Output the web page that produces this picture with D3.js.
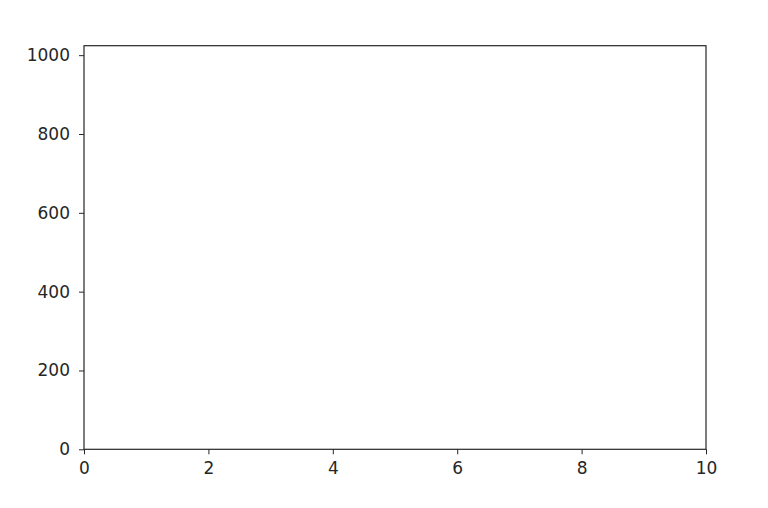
<!DOCTYPE html>
<html><head><meta charset="utf-8">
<script src="https://cdn.jsdelivr.net/npm/d3@7"></script>
<style>body{margin:0;background:#fff}svg{display:block}text{font-family:"DejaVu Sans",sans-serif}</style>
</head><body><svg id="c" width="768" height="508"></svg>
<script>
const xDomain = [0, 10];
const yDomain = [0, 1024];
const xTicks = [0, 2, 4, 6, 8, 10];
const yTicks = [0, 200, 400, 600, 800, 1000];

const svg = d3.select("#c");
const L = 84, R = 706, T = 45.7, B = 449.3;
const x = d3.scaleLinear().domain(xDomain).range([L, R]);
const y = d3.scaleLinear().domain(yDomain).range([B, T]);

const fs = 17;
svg.append("g").attr("transform", `translate(0,${B})`)
  .call(d3.axisBottom(x).tickValues(xTicks).tickSize(5).tickPadding(8).tickFormat(d3.format("d")))
  .call(g => g.select(".domain").remove())
  .call(g => g.selectAll("text").attr("font-size", fs).attr("fill", "#262626").attr("font-family", "DejaVu Sans"))
  .call(g => g.selectAll("line").attr("stroke", "#262626"));
svg.append("g").attr("transform", `translate(${L},0)`)
  .call(d3.axisLeft(y).tickValues(yTicks).tickSize(5).tickPadding(9).tickFormat(d3.format("d")))
  .call(g => g.select(".domain").remove())
  .call(g => g.selectAll("text").attr("font-size", fs).attr("fill", "#262626").attr("font-family", "DejaVu Sans"))
  .call(g => g.selectAll("line").attr("stroke", "#262626"));
svg.append("rect").attr("x", L).attr("y", T).attr("width", R - L).attr("height", B - T)
  .attr("fill", "none").attr("stroke", "#262626").attr("stroke-width", 1.2);
</script></body></html>
